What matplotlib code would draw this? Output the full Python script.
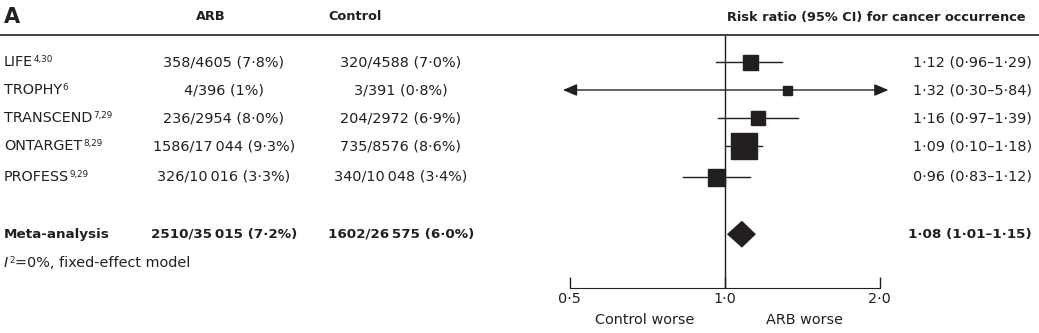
import numpy as np
import matplotlib
matplotlib.use("Agg")
import matplotlib.pyplot as plt
from matplotlib.lines import Line2D

# trial rows
studies = ["LIFE", "TROPHY", "TRANSCEND", "ONTARGET", "PROFESS"]
refs = ["4,30", "6", "7,29", "8,29", "9,29"]
arb_events = [358, 4, 236, 1586, 326]
arb_total = [4605, 396, 2954, 17044, 10016]
arb_pct = ["7·8", "1", "8·0", "9·3", "3·3"]
ctl_events = [320, 3, 204, 735, 340]
ctl_total = [4588, 391, 2972, 8576, 10048]
ctl_pct = ["7·0", "0·8", "6·9", "8·6", "3·4"]
rr = [1.12, 1.32, 1.16, 1.09, 0.96]
ci_lo = [0.96, 0.30, 0.97, 1.00, 0.83]
ci_hi = [1.29, 5.84, 1.39, 1.18, 1.12]
ci_lo_printed = [0.96, 0.30, 0.97, 0.10, 0.83]  # lower bounds as typeset in the table

# pooled estimate
meta_arb = (2510, 35015, "7·2")
meta_ctl = (1602, 26575, "6·0")
meta_rr, meta_lo, meta_hi = 1.08, 1.01, 1.15

# layout (pixels / row units)
W, H = 1039, 333
row_y = [0, 1, 2, 3, 4.1]
meta_y = 6.15
box_px = [15, 9, 13.5, 26, 17]
clip_lo, clip_hi = 0.485, 2.08
ink = "#231f20"
fs, fs_bold, fs_head, fs_sup = 10.4, 9.7, 9.3, 6.3

plt.rcParams["font.family"] = "DejaVu Sans"
plt.rcParams["font.size"] = fs


def dot(s):
    return s.replace(".", "\u00b7")


def num(n):
    s = str(n)
    if len(s) > 4:
        s = s[:-3] + "\u2009" + s[-3:]
    return s


def sup(ax, base, s):
    # small raised text glued to the top-right corner of another text
    return ax.annotate(s, xy=(1.0, 1.0), xycoords=base, xytext=(0.5, 0),
                       textcoords="offset points", ha="left", va="top",
                       fontsize=fs_sup, color=ink)


fig = plt.figure(figsize=(W / 100, H / 100), dpi=100)
top_px, axis_px = 35, 288
ax = fig.add_axes([0, 1 - axis_px / H, 1, (axis_px - top_px) / H])
ax.set_xscale("log")
one_px, per_double = 724.7, 155
ax.set_xlim(2 ** (-one_px / per_double), 2 ** ((W - one_px) / per_double))
r0, row_h = 62, 28
ax.set_ylim((axis_px - r0) / row_h, (top_px - r0) / row_h)

for s in ["left", "right", "top"]:
    ax.spines[s].set_visible(False)
ax.spines["bottom"].set_bounds(0.5, 2.0)
ax.spines["bottom"].set_color(ink)
ax.set_yticks([])
ax.set_xticks([0.5, 1, 2])
ax.set_xticklabels(["0·5", "1·0", "2·0"])
ax.xaxis.set_minor_locator(matplotlib.ticker.NullLocator())
ax.tick_params(axis="x", direction="in", length=8, width=1, pad=3,
               colors=ink, labelsize=fs)
ax.patch.set_visible(False)

ax.axvline(1, color=ink, lw=1)

# study intervals and boxes
for i in range(len(studies)):
    y = row_y[i]
    lo, hi = ci_lo[i], ci_hi[i]
    if lo < clip_lo or hi > clip_hi:
        for end in [max(lo, clip_lo), min(hi, clip_hi)]:
            ax.annotate("", xy=(end, y), xytext=(rr[i], y),
                        arrowprops=dict(arrowstyle="-|>,head_length=0.85,head_width=0.36",
                                        color=ink, lw=1, shrinkA=0, shrinkB=0,
                                        mutation_scale=10))
    else:
        ax.plot([lo, hi], [y, y], color=ink, lw=1)
    ax.plot(rr[i], y, marker="s", ms=box_px[i] * 0.72, color=ink, mec=ink)

# pooled diamond
dh = 13.5 / row_h
ax.fill([meta_lo, meta_rr, meta_hi, meta_rr],
        [meta_y, meta_y - dh, meta_y, meta_y + dh], color=ink, lw=0)

tx = ax.get_yaxis_transform()
col_name, col_arb, col_ctl, col_rr = 4 / W, 224 / W, 401 / W, 1032 / W

for i in range(len(studies)):
    y = row_y[i]
    name = ax.text(col_name, y, studies[i], transform=tx,
                   ha="left", va="center", color=ink)
    sup(ax, name, refs[i])
    ax.text(col_arb, y, f"{num(arb_events[i])}/{num(arb_total[i])} ({arb_pct[i]}%)",
            transform=tx, ha="center", va="center", color=ink)
    ax.text(col_ctl, y, f"{num(ctl_events[i])}/{num(ctl_total[i])} ({ctl_pct[i]}%)",
            transform=tx, ha="center", va="center", color=ink)
    ax.text(col_rr, y, dot(f"{rr[i]:.2f} ({ci_lo_printed[i]:.2f}–{ci_hi[i]:.2f})"),
            transform=tx, ha="right", va="center", color=ink)

bold = dict(transform=tx, va="center", color=ink, weight="bold", fontsize=fs_bold)
ax.text(col_name, meta_y, "Meta-analysis", ha="left", **bold)
ax.text(col_arb, meta_y, f"{num(meta_arb[0])}/{num(meta_arb[1])} ({meta_arb[2]}%)",
        ha="center", **bold)
ax.text(col_ctl, meta_y, f"{num(meta_ctl[0])}/{num(meta_ctl[1])} ({meta_ctl[2]}%)",
        ha="center", **bold)
ax.text(col_rr, meta_y, dot(f"{meta_rr:.2f} ({meta_lo:.2f}–{meta_hi:.2f})"),
        ha="right", **bold)

# heterogeneity note: italic I, superscript 2, then the rest
i_txt = ax.text(col_name, (263 - r0) / row_h, "I", style="italic", transform=tx,
                ha="left", va="center", color=ink)
two = sup(ax, i_txt, "2")
ax.annotate("=0%, fixed-effect model", xy=(1.0, 0.0), xycoords=(two, i_txt),
            xytext=(0.5, 0), textcoords="offset points", ha="left", va="bottom",
            color=ink)

# favour labels under the axis
bx = ax.get_xaxis_transform()
low_y = (axis_px - 320) / (axis_px - top_px)
ax.text(0.7, low_y, "Control worse", transform=bx, ha="center", va="center", color=ink)
ax.text(1 / 0.7, low_y, "ARB worse", transform=bx, ha="center", va="center", color=ink)

# header
hy = 1 - 17 / H
fig.text(4 / W, hy, "A", ha="left", va="center", fontsize=15, weight="bold", color=ink)
fig.text(211 / W, hy, "ARB", ha="center", va="center", weight="bold",
         fontsize=fs_head, color=ink)
fig.text(355 / W, hy, "Control", ha="center", va="center", weight="bold",
         fontsize=fs_head, color=ink)
fig.text(876 / W, hy, "Risk ratio (95% CI) for cancer occurrence", ha="center",
         va="center", weight="bold", fontsize=fs_head, color=ink)
fig.add_artist(Line2D([0, 1], [1 - top_px / H] * 2, color=ink, lw=1.2))

fig.savefig("out.png", dpi=100)
